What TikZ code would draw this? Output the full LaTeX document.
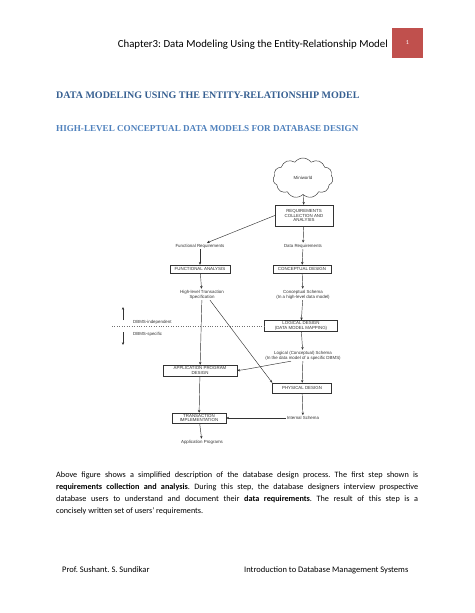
\documentclass[tikz,border=0pt]{standalone}
\usepackage{fontspec}
\setmainfont{Carlito}
\newfontfamily\headfont{Liberation Serif}
\newfontfamily\figfont{Liberation Sans}
\usepackage{tikz}
\usetikzlibrary{shapes.symbols, arrows.meta, positioning}
\definecolor{PageRed}{HTML}{C0504D}
\definecolor{HeadBlue}{HTML}{365F91}
\definecolor{SubBlue}{HTML}{4F81BD}
\definecolor{FigInk}{HTML}{333333}
\frenchspacing
\tikzset{
  % Figure styles
  stepbox/.style={rectangle, draw=FigInk, line width=0.45pt, inner sep=0.8pt, font=\figfont\fontsize{4.4}{4.9}\selectfont, align=center, text=FigInk},
  figlabel/.style={font=\figfont\fontsize{4.4}{4.9}\selectfont, align=center, text=FigInk, inner sep=1pt},
  worldcloud/.style={cloud, cloud puffs=11, cloud puff arc=110, aspect=1.6, draw=FigInk, line width=0.45pt, minimum width=60pt, minimum height=40pt, font=\figfont\fontsize{4.4}{4.9}\selectfont, text=FigInk},
  % Arrow styles
  arrow/.style={-{Stealth[length=2.8pt, width=2.4pt]}, FigInk, line width=0.45pt},
  dottedline/.style={FigInk!70, line width=0.45pt, dotted},
  % Page text styles
  headnode/.style={anchor=base west, inner sep=0pt, font=\headfont\bfseries\fontsize{10}{12}\selectfont},
  bodytext/.style={font=\fontsize{8.2}{12}\selectfont, inner sep=0pt}
}

\begin{document}
\begin{tikzpicture}[x=1pt, y=-1pt]
  \useasboundingbox[fill=white] (0,0) rectangle (474,613);

  % Page header
  \node[bodytext, font=\fontsize{10.8}{12}\selectfont, anchor=base east] (chapter) at (388,47) {Chapter3: Data Modeling Using the Entity-Relationship Model};
  \node[rectangle, fill=PageRed, minimum width=31pt, minimum height=30pt, text=white, font=\fontsize{6}{7}\selectfont] (pagenum) at (407.5,43) {1};

  % Headings
  \node[headnode, text=HeadBlue] (title) at (56,98) {DATA MODELING USING THE ENTITY-RELATIONSHIP MODEL};
  \node[headnode, text=SubBlue, font=\headfont\bfseries\fontsize{9.1}{12}\selectfont] (subtitle) at (56,131.5) {HIGH-LEVEL CONCEPTUAL DATA MODELS FOR DATABASE DESIGN};

  % Design process figure
  \node[worldcloud] (world) at (303,178) {Miniworld};
  \node[stepbox, minimum width=58pt, minimum height=21pt] (reqs) at (304,215.5) {REQUIREMENTS\\COLLECTION AND\\ANALYSIS};
  \node[figlabel] (funcreq) at (200,246) {Functional Requirements};
  \node[figlabel] (datareq) at (303,246) {Data Requirements};
  \node[stepbox, minimum width=60pt, minimum height=8pt] (funcan) at (200,269) {FUNCTIONAL ANALYSIS};
  \node[stepbox, minimum width=58pt, minimum height=8pt] (concdes) at (302,269) {CONCEPTUAL DESIGN};
  \node[figlabel] (hlts) at (202,294.5) {High-level Transaction\\Specification};
  \node[figlabel] (concschema) at (303,294.5) {Conceptual Schema\\(In a high-level data model)};
  \node[stepbox, minimum width=73pt, minimum height=11pt] (logdes) at (301,326) {LOGICAL DESIGN\\(DATA MODEL MAPPING)};
  \node[figlabel] (logschema) at (303,355.5) {Logical (Conceptual) Schema\\(In the data model of a specific DBMS)};
  \node[stepbox, minimum width=74pt, minimum height=11pt] (appdes) at (200,370.5) {APPLICATION PROGRAM\\DESIGN};
  \node[stepbox, minimum width=59pt, minimum height=10pt] (physdes) at (302,388) {PHYSICAL DESIGN};
  \node[figlabel] (intschema) at (303,418) {Internal Schema};
  \node[stepbox, minimum width=54pt, minimum height=10pt] (transimp) at (199,418) {TRANSACTION\\IMPLEMENTATION};
  \node[figlabel] (appprog) at (202,442) {Application Programs};

  % DBMS split
  \node[figlabel, anchor=west] (indep) at (132,322.5) {DBMS-independent};
  \node[figlabel, anchor=west] (specific) at (132,334) {DBMS-specific};
  \coordinate (dotstart) at (112,326);
  \coordinate (upfrom) at (123,320);
  \coordinate (upto) at (123,307);
  \coordinate (downfrom) at (123,332);
  \coordinate (downto) at (123,345);
  \draw[dottedline] (dotstart) -- (dotstart -| logdes.west);
  \draw[arrow] (upfrom) -- (upto);
  \draw[arrow] (downfrom) -- (downto);

  % Connectors
  \draw[arrow] (world) -- (reqs);
  \draw[arrow] (reqs.west) -- ([xshift=7pt]funcreq.north);
  \draw[arrow] (reqs) -- (datareq);
  \draw[arrow] (funcreq) -- (funcan);
  \draw[arrow] (datareq) -- (concdes);
  \draw[arrow] (funcan) -- (hlts);
  \draw[arrow] (concdes) -- (concschema);
  \draw[arrow] (concschema) -- (logdes);
  \draw[arrow] (logdes) -- (logschema);
  \draw[arrow] (logschema) -- (physdes);
  \draw[arrow] ([xshift=-12pt]logschema.south) .. controls (257,367) and (250,369) .. (appdes.east);
  \draw[arrow] (hlts) -- (appdes);
  \draw[arrow] ([xshift=8pt]hlts.south) -- (physdes.north west);
  \draw[arrow] (physdes) -- (intschema);
  \draw[arrow] (intschema) -- (transimp);
  \draw[arrow] (appdes) -- (transimp);
  \draw[arrow] (transimp) -- (appprog);

  % Body paragraph
  \node[bodytext, anchor=north west, text width=362pt, align=justify] (para) at (56,471.5) {Above figure shows a simplified description of the database design process. The first step shown is\linebreak \textbf{requirements collection and analysis}. During this step, the database designers interview prospective\linebreak database users to understand and document their \textbf{data requirements}. The result of this step is a\linebreak concisely written set of users' requirements.\par};

  % Page footer
  \node[bodytext, font=\fontsize{8.5}{12}\selectfont, anchor=base west] (author) at (62,572) {Prof. Sushant. S. Sundikar};
  \node[bodytext, font=\fontsize{8.5}{12}\selectfont, anchor=base west] (course) at (244,572) {Introduction to Database Management Systems};
\end{tikzpicture}
\end{document}
